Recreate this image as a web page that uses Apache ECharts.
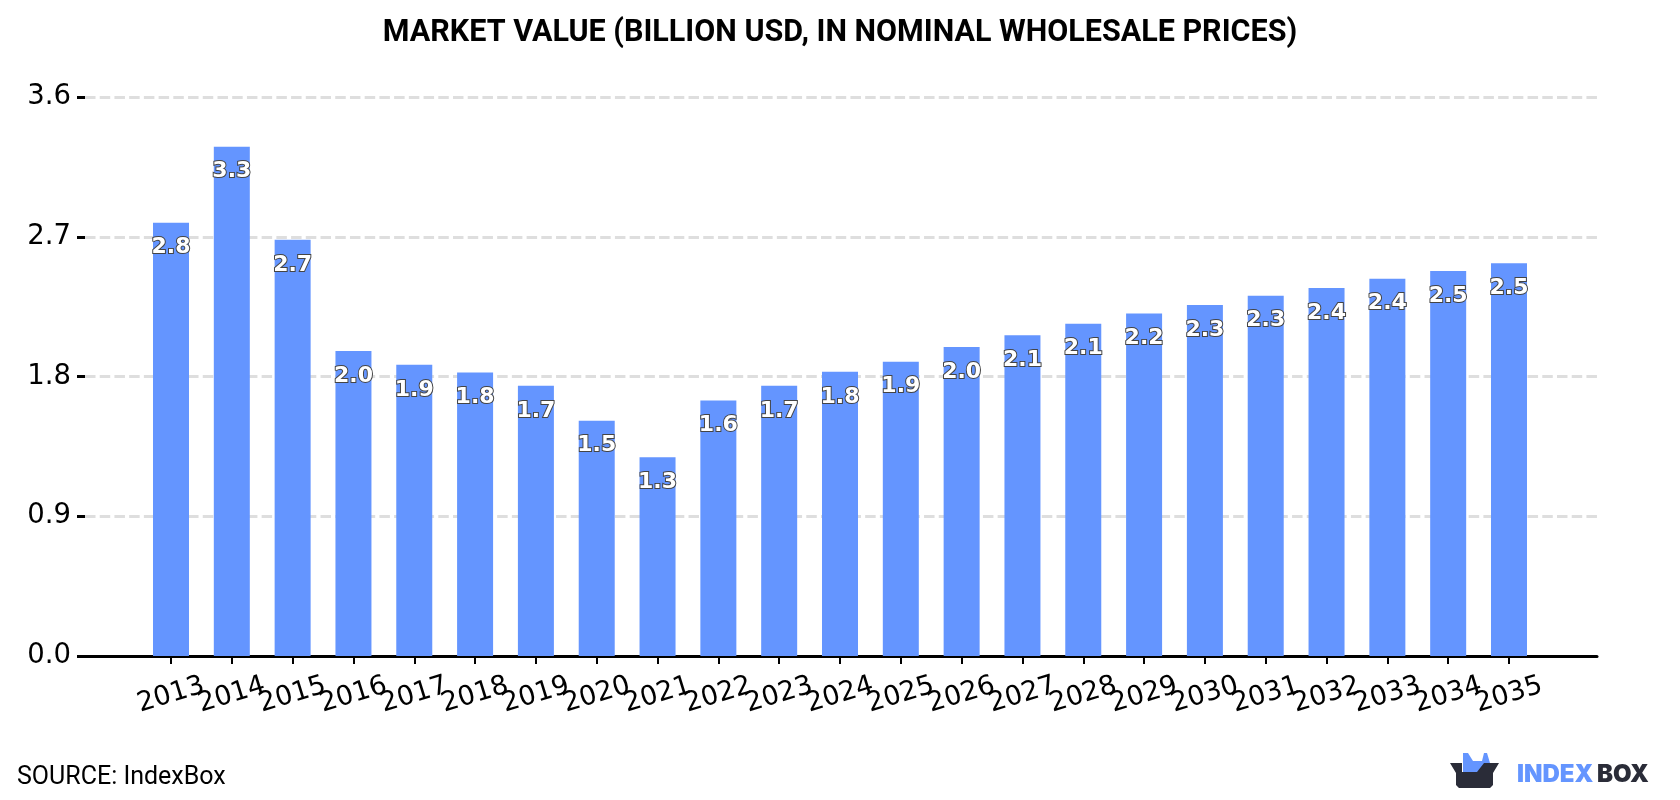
<!DOCTYPE html>
<html>
<head>
<meta charset="utf-8">
<style>html,body{margin:0;padding:0;background:#fff}#chart{width:1680px;height:800px}</style>
<script src="https://cdn.jsdelivr.net/npm/echarts@6/dist/echarts.min.js"></script>
</head>
<body>
<div id="chart"></div>
<script>
// Market value by year, billion USD
const years = [2013,2014,2015,2016,2017,2018,2019,2020,2021,2022,2023,2024,2025,2026,2027,2028,2029,2030,2031,2032,2033,2034,2035];
const values = [2.79,3.28,2.68,1.965,1.875,1.825,1.74,1.515,1.28,1.645,1.74,1.83,1.895,1.99,2.065,2.14,2.205,2.26,2.32,2.37,2.43,2.48,2.53];
const yTickStep = 0.9;
const yMax = 3.6;
const xMin = 2011.586;
const xMax = 2036.447;
const titleText = 'MARKET VALUE (BILLION USD, IN NOMINAL WHOLESALE PRICES)';
const sourceText = 'SOURCE: IndexBox';

const BLUE = '#6495ff';
const DARK = '#2a2c38';

const chart = echarts.init(document.getElementById('chart'), null, {renderer: 'canvas'});
chart.setOption({
  animation: false,
  backgroundColor: '#fff',
  title: {
    text: titleText, left: 835, top: 13, textAlign: 'center',
    textStyle: {fontFamily: 'Roboto', fontWeight: 'bold', fontSize: 30.5, color: '#000'}
  },
  grid: {left: 85, right: 83, top: 97, bottom: 144},
  xAxis: {
    type: 'value',
    min: xMin, max: xMax,
    splitLine: {show: false},
    axisLine: {show: true, onZero: true, lineStyle: {color: '#000', width: 3}},
    axisTick: {show: true, customValues: years, length: 8, lineStyle: {color: '#000', width: 2}},
    axisLabel: {
      // The two end values are blank placeholders so that the year labels may overlap freely
      customValues: [xMin, ...years, xMax],
      rotate: 17, margin: 39, align: 'center', verticalAlign: 'middle',
      showMinLabel: false, showMaxLabel: false, hideOverlap: false,
      fontFamily: 'DejaVu Sans', fontSize: 27, color: '#000',
      formatter: v => (Number.isInteger(v) ? String(v) : '')
    }
  },
  yAxis: {
    type: 'value', min: 0, max: yMax, interval: yTickStep,
    axisLine: {show: false},
    axisTick: {show: true, length: 8, lineStyle: {color: '#000', width: 3}},
    axisLabel: {
      margin: 14, padding: [2, 0, 0, 0], fontFamily: 'DejaVu Sans', fontSize: 27.5, color: '#000',
      formatter: v => v.toFixed(1)
    },
    splitLine: {show: true, lineStyle: {color: '#dedede', width: 3, type: [10.5, 4.22]}}
  },
  series: [{
    type: 'bar',
    barWidth: 36,
    data: years.map((y, i) => [y, values[i]]),
    itemStyle: {color: BLUE},
    label: {
      show: true, position: 'insideTop', distance: 14,
      fontFamily: 'DejaVu Sans', fontWeight: 'bold', fontSize: 22,
      color: '#fff', textBorderColor: '#444', textBorderWidth: 2,
      formatter: p => p.value[1].toFixed(1)
    }
  }],
  graphic: [
    {type: 'text', left: 17, top: 765, style: {text: sourceText, fontFamily: 'Roboto', fontSize: 25, fill: '#000'}},
    // IndexBox logo: box with blue contents and the wordmark beside it
    {type: 'polygon', shape: {points: [[1463,753],[1468,753],[1473,761],[1482,761],[1484,753],[1487,753],[1490,763],[1483,772],[1463,772]]}, style: {fill: BLUE}},
    {type: 'polygon', shape: {points: [[1450,763],[1462,763],[1462,772],[1477,772],[1484,763],[1499,763],[1493,773],[1493,785],[1490,788],[1459,788],[1456,785],[1456,773]]}, style: {fill: DARK}},
    {type: 'text', left: 1517, top: 763, style: {text: 'INDEX', fontFamily: 'Inter', fontWeight: 900, fontSize: 24, fill: BLUE, letterSpacing: 2.5}},
    {type: 'text', left: 1597, top: 763, style: {text: 'BOX', fontFamily: 'Inter', fontWeight: 900, fontSize: 24, fill: DARK, letterSpacing: 0}}
  ]
});
</script>
</body>
</html>
